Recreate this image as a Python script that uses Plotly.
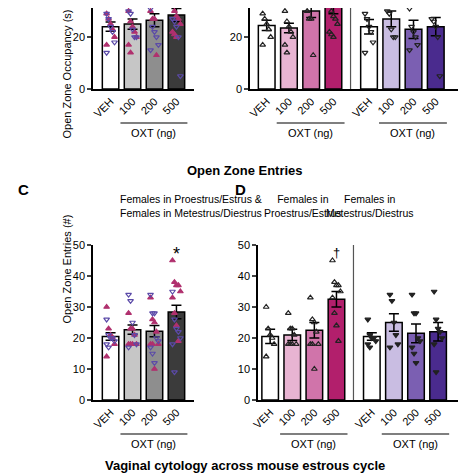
import plotly.graph_objects as go

doses = ["VEH", "100", "200", "500"]

# top row (cropped) - open zone occupancy
top_all_mean = [24, 25, 26.5, 28.5]
top_all_sem = [1.8, 2.0, 2.5, 2.5]
top_pe_mean = [24.5, 23.5, 30, 31.5]
top_pe_sem = [2.0, 1.8, 2.5, 2.5]
top_md_mean = [24, 27, 23, 24]
top_md_sem = [2.8, 3.0, 3.5, 3.5]
top_pe_pts = [[29, 27, 25, 23, 20, 17], [30, 26, 24, 22, 20, 17, 14],
              [30, 27, 27, 13], [32, 30, 28, 27, 25, 22, 21, 20]]
top_md_pts = [[29, 27, 24, 22, 18, 14], [30, 29, 23, 20, 20],
              [31, 24, 22, 20, 17, 15], [27, 26, 24, 20, 5]]

# C / D - open zone entries
c_mean = [20.5, 22.7, 22.2, 28.4]
c_sem = [1.2, 1.5, 1.8, 2.2]
pe_mean = [20.5, 21.0, 22.5, 32.5]
pe_sem = [2.3, 1.8, 2.5, 2.5]
md_mean = [20.5, 25.0, 21.5, 22.0]
md_sem = [1.2, 2.8, 3.0, 3.0]
pe_pts = [[30, 23, 21, 20, 18, 14], [28, 23, 23, 21, 18, 18, 18, 18],
          [33, 26, 25, 22, 18, 18, 18, 10], [45, 38, 37, 37, 35, 33, 28, 24, 19]]
md_pts = [[26, 21, 20, 20, 19, 18, 17], [34, 32, 25, 21, 18, 17],
          [34, 28, 28, 20, 19, 17, 15, 12], [35, 26, 23, 22, 20, 18, 9]]

grey = ["white", "#c6c6c6", "#8e8e8e", "#3b3b3b"]
pink = ["white", "#e8b4d2", "#d074aa", "#b21f6c"]
purple = ["white", "#c9bde2", "#7b5fb2", "#4a2b8e"]
PK = "#b0306e"
PU = "#5b4aa8"

fig = go.Figure()


def add_group(xa, ya, xs, means, sems, colors):
    fig.add_trace(go.Bar(
        x=xs, y=means, width=0.75, xaxis=xa, yaxis=ya,
        marker=dict(color=colors, line=dict(color="black", width=1.5)),
        error_y=dict(type="data", array=sems, color="black", thickness=1.5, width=5),
        showlegend=False))


def add_points(xa, ya, xs, pts, symbol, color, size=5):
    px, py = [], []
    for x0, vals in zip(xs, pts):
        for i, v in enumerate(vals):
            px.append(x0 + ((i % 5) - 2) * 0.09)
            py.append(v)
    fig.add_trace(go.Scatter(x=px, y=py, mode="markers", xaxis=xa, yaxis=ya,
                             marker=dict(symbol=symbol, size=size, color=color,
                                         line=dict(color=color, width=1.2)),
                             showlegend=False))


L = [0, 1, 2, 3]
R = [4.6, 5.6, 6.6, 7.6]

# top-left
add_group("x", "y", L, top_all_mean, top_all_sem, grey)
add_points("x", "y", L, top_pe_pts, "triangle-up", PK)
add_points("x", "y", L, top_md_pts, "triangle-down-open", PU)
# top-right
add_group("x2", "y2", L, top_pe_mean, top_pe_sem, pink)
add_group("x2", "y2", R, top_md_mean, top_md_sem, purple)
add_points("x2", "y2", L, top_pe_pts, "triangle-up-open", "#222")
add_points("x2", "y2", R, top_md_pts, "triangle-down-open", "#222")
# C
add_group("x3", "y3", L, c_mean, c_sem, grey)
add_points("x3", "y3", L, pe_pts, "triangle-up", PK)
add_points("x3", "y3", L, md_pts, "triangle-down-open", PU)
# D
add_group("x4", "y4", L, pe_mean, pe_sem, pink)
add_group("x4", "y4", R, md_mean, md_sem, purple)
add_points("x4", "y4", L, pe_pts, "triangle-up-open", "#222")
add_points("x4", "y4", R, md_pts, "triangle-down", "#222")

FAM = "Liberation Sans, Arial"
fnt = dict(family=FAM, size=11, color="black")
small = dict(family=FAM, size=10.5, color="black")


def xax(dom, rng, vals, anchor):
    return dict(domain=dom, range=rng, tickvals=vals, ticktext=doses * (len(vals) // 4),
                tickangle=-45, showline=True, linecolor="black", linewidth=1.5,
                ticks="", showgrid=False, zeroline=False, anchor=anchor, tickfont=fnt)


def yax(dom, rng, tv, anchor):
    return dict(domain=dom, range=rng, tickvals=tv, showline=True, linecolor="black",
                linewidth=1.5, ticks="outside", ticklen=4, tickwidth=1.5,
                showgrid=False, zeroline=False, anchor=anchor, tickfont=fnt)


def P(px):
    return 1 - px / 474


fig.update_layout(
    width=474, height=474, margin=dict(l=0, r=0, t=0, b=0, autoexpand=False),
    paper_bgcolor="white", plot_bgcolor="white", font=fnt, barmode="overlay",
    xaxis=xax([85 / 474, 186 / 474], [-0.8, 3.8], L, "y"),
    yaxis=yax([P(81), 1], [0, 31.2], [0, 20], "x"),
    xaxis2=xax([242 / 474, 450 / 474], [-0.75, 8.6], L + R, "y2"),
    yaxis2=yax([P(81), 1], [0, 31.2], [0, 20], "x2"),
    xaxis3=xax([85 / 474, 186 / 474], [-0.8, 3.8], L, "y3"),
    yaxis3=yax([P(392), P(237)], [0, 50], [0, 10, 20, 30, 40, 50], "x3"),
    xaxis4=xax([250 / 474, 450 / 474], [-0.55, 8.5], L + R, "y4"),
    yaxis4=yax([P(392), P(237)], [0, 50], [0, 10, 20, 30, 40, 50], "x4"),
)

shapes = [
    dict(type="line", xref="x2", yref="paper", x0=3.77, x1=3.77, y0=P(81), y1=1,
         line=dict(color="#555", width=1.2)),
    dict(type="line", xref="x4", yref="paper", x0=3.77, x1=3.77, y0=P(392), y1=P(237),
         line=dict(color="#555", width=1.2)),
]
annos = []
for xr, x0, x1, ly in [("x", 0.45, 3.5, 115), ("x2", 0.45, 3.5, 115), ("x2", 5.05, 8.1, 115),
                       ("x3", 0.45, 3.5, 426), ("x4", 0.45, 3.5, 426), ("x4", 5.05, 8.1, 426)]:
    shapes.append(dict(type="line", xref=xr, yref="paper", x0=x0, x1=x1, y0=P(ly), y1=P(ly),
                       line=dict(color="black", width=1.2)))
    annos.append(dict(xref=xr, yref="paper", x=(x0 + x1) / 2, y=P(ly + 2), text="OXT (ng)",
                      showarrow=False, yanchor="top", font=fnt))

annos += [
    dict(xref="paper", yref="paper", x=0.5, y=P(153), text="<b>Open Zone Entries</b>",
         showarrow=False, font=dict(family=FAM, size=13)),
    dict(xref="paper", yref="paper", x=0.5, y=P(467),
         text="<b>Vaginal cytology across mouse estrous cycle</b>",
         showarrow=False, font=dict(family=FAM, size=13)),
    dict(xref="paper", yref="paper", x=8 / 474, y=P(181), text="<b>C</b>", showarrow=False,
         font=dict(family=FAM, size=15)),
    dict(xref="paper", yref="paper", x=232 / 474, y=P(181), text="<b>D</b>", showarrow=False,
         font=dict(family=FAM, size=15)),
    dict(xref="paper", yref="paper", x=110 / 474, y=P(198),
         text="Females in Proestrus/Estrus &<br>Females in Metestrus/Diestrus",
         showarrow=False, font=small),
    dict(xref="paper", yref="paper", x=295 / 474, y=P(198),
         text="Females in<br>Proestrus/Estrus", showarrow=False, font=small),
    dict(xref="paper", yref="paper", x=408 / 474, y=P(198),
         text="Females in<br>Metestrus/Diestrus", showarrow=False, font=small),
    dict(xref="paper", yref="paper", x=50 / 474, y=P(318), text="Open Zone Entries (#)",
         textangle=-90, showarrow=False, font=fnt),
    dict(xref="paper", yref="paper", x=50 / 474, y=1, text="Open Zone Occupancy (s)",
         textangle=-90, showarrow=False, font=fnt, yanchor="top"),
    dict(xref="x3", yref="y3", x=3, y=47, text="*", showarrow=False,
         font=dict(family=FAM, size=18)),
    dict(xref="x4", yref="y4", x=3, y=47.5, text="†", showarrow=False,
         font=dict(family=FAM, size=13)),
]
fig.update_layout(shapes=shapes, annotations=annos)

fig.write_html("out.html")
